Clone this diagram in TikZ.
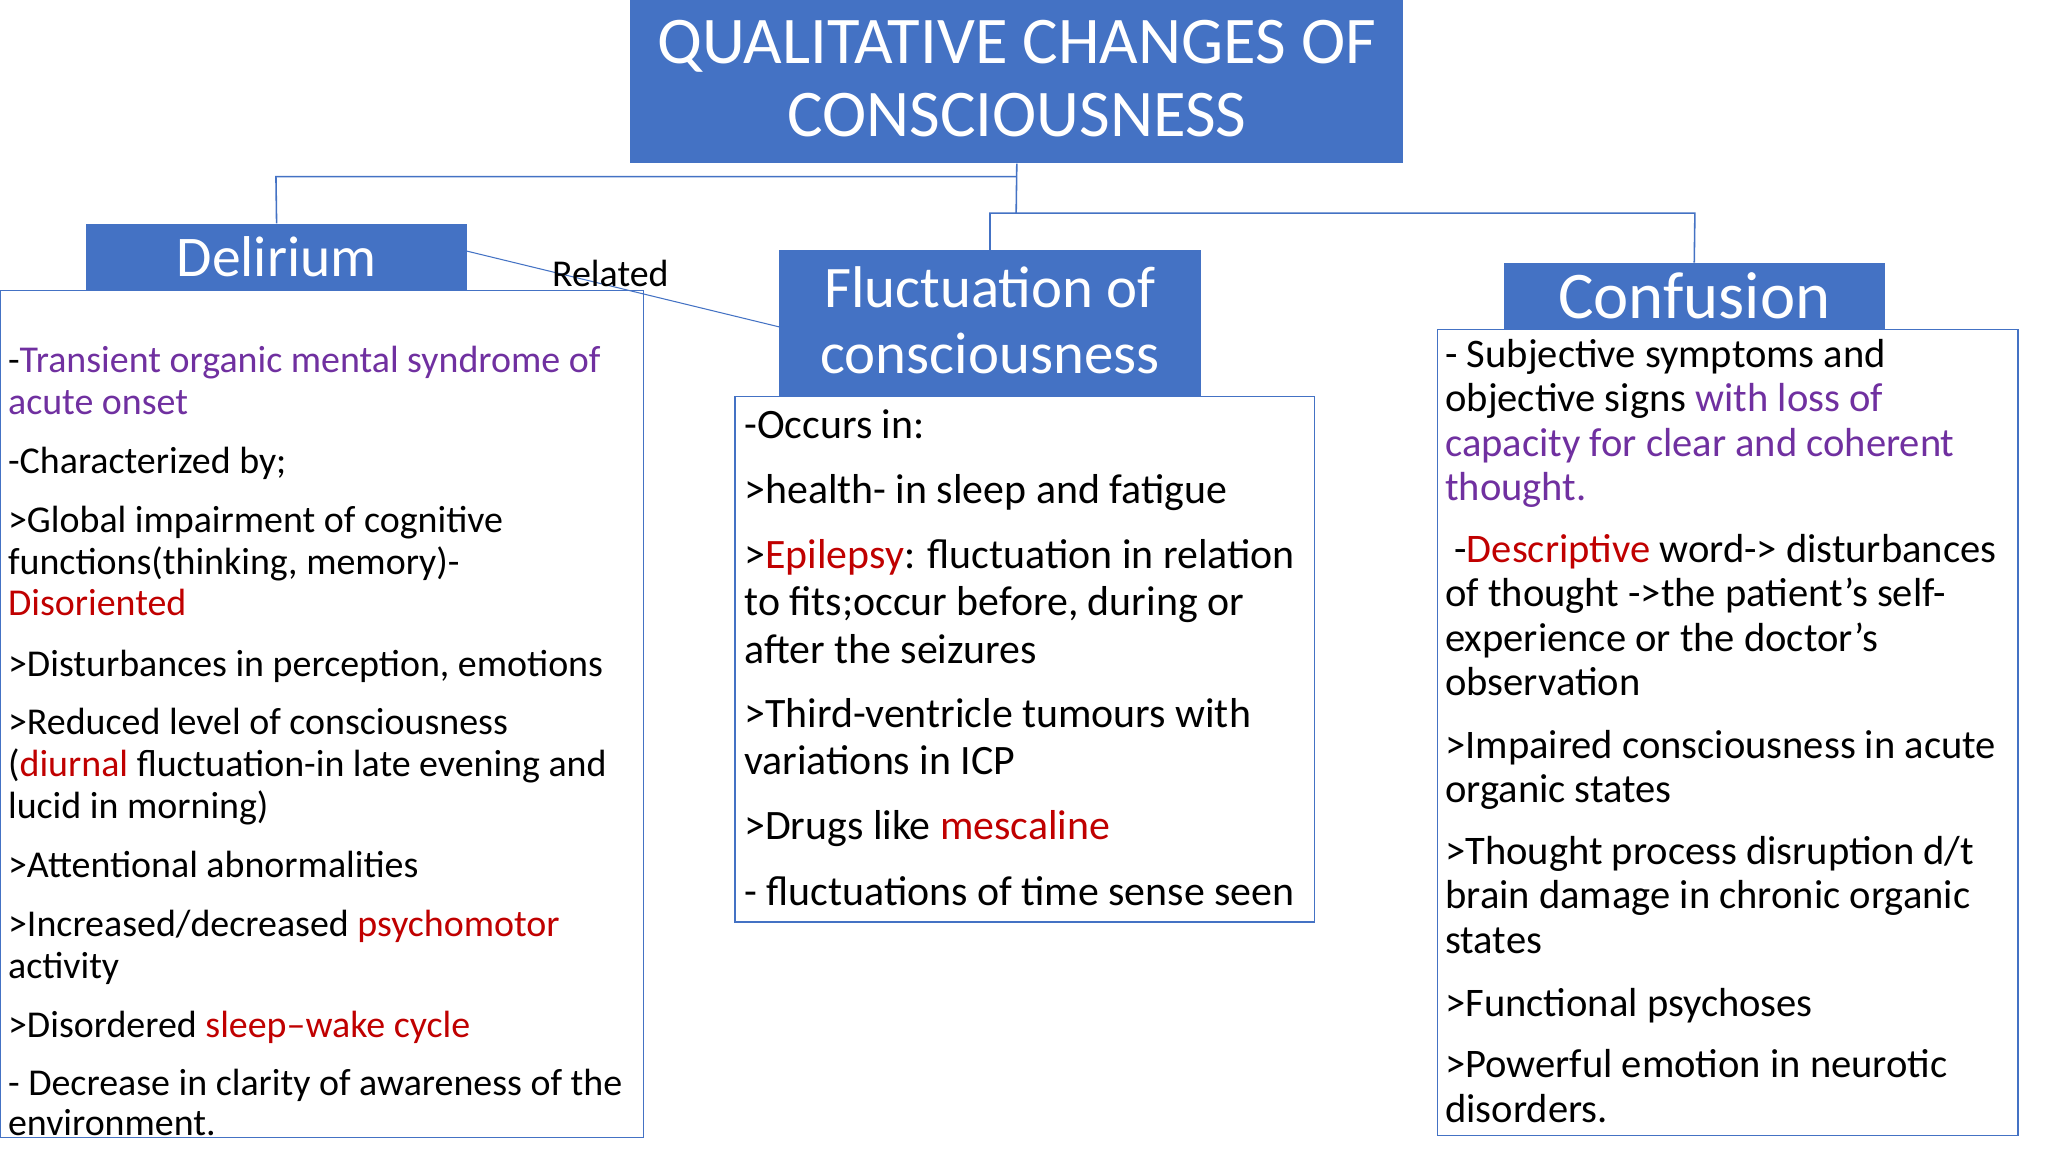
\documentclass[tikz,border=0pt]{standalone}
\usepackage{fontspec}
\setmainfont{Carlito}
\definecolor{hb}{HTML}{4472C4}
\definecolor{pp}{HTML}{7030A0}
\definecolor{rd}{HTML}{C00000}
\newcommand{\pu}[1]{\textcolor{pp}{#1}}
\newcommand{\re}[1]{\textcolor{rd}{#1}}
\tikzset{
 hdr/.style={fill=hb,draw=none,text=white,inner sep=0pt,align=center},
 cbox/.style={draw=hb,line width=1pt,fill=white},
 conn/.style={draw=hb,line width=1.2pt},
 dtx/.style={anchor=base west,inner sep=0pt,font=\fontsize{29pt}{32pt}\selectfont},
 ftx/.style={anchor=base west,inner sep=0pt,font=\fontsize{32pt}{34pt}\selectfont},
 ctx/.style={anchor=base west,inner sep=0pt,font=\fontsize{31pt}{33pt}\selectfont},
}
\begin{document}
\begin{tikzpicture}[x=1pt,y=-1pt]
\useasboundingbox[fill=white] (0,0) rectangle (1566,881);
% connectors
\coordinate (j1) at (777,135);
\coordinate (j2) at (777,163);
\coordinate (jd) at (211,135);
\coordinate (jf) at (757,163);
\coordinate (jc) at (1296,163);
\node[hdr,minimum width=591pt,minimum height=130pt,font=\fontsize{51pt}{56pt}\selectfont] (title) at (777.5,60) {QUALITATIVE CHANGES OF\\CONSCIOUSNESS};
\node[hdr,minimum width=291pt,minimum height=51pt,font=\fontsize{44pt}{48pt}\selectfont] (dh) at (211.5,196.5) {Delirium};
\node[hdr,minimum width=322pt,minimum height=107pt,font=\fontsize{45pt}{50pt}\selectfont] (fh) at (757,245) {Fluctuation of\\consciousness};
\node[hdr,minimum width=291pt,minimum height=51pt,font=\fontsize{51pt}{52pt}\selectfont] (ch) at (1295.5,226.5) {Confusion};
\draw[conn] (title.south) -- (j2) -- (jf) -- (fh.north);
\draw[conn] (j1) -- (jd) -- (dh.north);
\draw[conn] (j2) -- (jc) -- (ch.north);
% boxes
\fill[hb!12] (66,222) rectangle (357,242);
\draw[cbox] (0,222) rectangle (492,870);
\draw[cbox] (562,303) rectangle (1005,705);
\draw[cbox] (1099,252) rectangle (1543,868);
\fill[hb] (596,290) rectangle (918,303);
\coordinate (rl) at (357,192);
\draw[hb,line width=0.8pt] (rl) -- (596,250);
\node[dtx] (rel) at (422,219) {Related};
% delirium
\node[dtx] (d1) at (6,285) {-\pu{Transient organic mental syndrome of}};
\node[dtx] (d2) at (6,317) {\pu{acute onset}};
\node[dtx] (d3) at (6,362) {-Characterized by;};
\node[dtx] (d4) at (6,407) {>Global impairment of cognitive};
\node[dtx] (d5) at (6,439) {functions(thinking, memory)-};
\node[dtx] (d6) at (6,471) {\re{Disoriented}};
\node[dtx] (d7) at (6,517) {>Disturbances in perception, emotions};
\node[dtx] (d8) at (6,562) {>Reduced level of consciousness};
\node[dtx] (d9) at (6,594) {(\re{diurnal} fluctuation-in late evening and};
\node[dtx] (d10) at (6,626) {lucid in morning)};
\node[dtx] (d11) at (6,671) {>Attentional abnormalities};
\node[dtx] (d12) at (6,716) {>Increased/decreased \re{psychomotor}};
\node[dtx] (d13) at (6,748) {activity};
\node[dtx] (d14) at (6,793) {>Disordered \re{sleep–wake cycle}};
\node[dtx] (d15) at (6,838) {- Decrease in clarity of awareness of the};
\node[dtx] (d16) at (6,868) {environment.};
% fluctuation
\node[ftx] (f1) at (569,335) {-Occurs in:};
\node[ftx] (f2) at (569,385) {>health- in sleep and fatigue};
\node[ftx] (f3) at (569,435) {>\re{Epilepsy}: fluctuation in relation};
\node[ftx] (f4) at (569,471) {to fits;occur before, during or};
\node[ftx] (f5) at (569,507) {after the seizures};
\node[ftx] (f6) at (569,556) {>Third-ventricle tumours with};
\node[ftx] (f7) at (569,592) {variations in ICP};
\node[ftx] (f8) at (569,642) {>Drugs like \re{mescaline}};
\node[ftx] (f9) at (569,692) {- fluctuations of time sense seen};
% confusion
\node[ctx] (c1) at (1105,281) {- Subjective symptoms and};
\node[ctx] (c2) at (1105,315) {objective signs \pu{with loss of}};
\node[ctx] (c3) at (1105,349) {\pu{capacity for clear and coherent}};
\node[ctx] (c4) at (1105,383) {\pu{thought.}};
\node[ctx] (c5) at (1112,430) {-\re{Descriptive} word-> disturbances};
\node[ctx] (c6) at (1105,464) {of thought ->the patient’s self-};
\node[ctx] (c7) at (1105,498) {experience or the doctor’s};
\node[ctx] (c8) at (1105,532) {observation};
\node[ctx] (c9) at (1105,580) {>Impaired consciousness in acute};
\node[ctx] (c10) at (1105,614) {organic states};
\node[ctx] (c11) at (1105,661) {>Thought process disruption d/t};
\node[ctx] (c12) at (1105,695) {brain damage in chronic organic};
\node[ctx] (c13) at (1105,729) {states};
\node[ctx] (c14) at (1105,777) {>Functional psychoses};
\node[ctx] (c15) at (1105,824) {>Powerful emotion in neurotic};
\node[ctx] (c16) at (1105,858) {disorders.};
\end{tikzpicture}
\end{document}
